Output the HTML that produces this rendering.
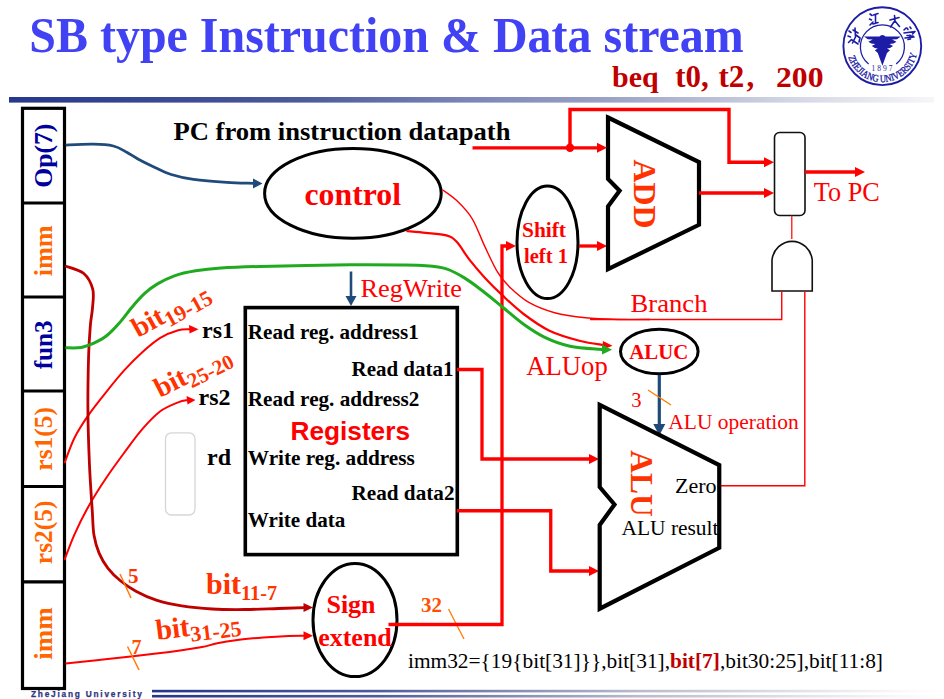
<!DOCTYPE html>
<html><head><meta charset="utf-8">
<style>
html,body{margin:0;padding:0;background:#fff;}
body{width:944px;height:699px;overflow:hidden;position:relative;}
svg{position:absolute;left:0;top:0;}
text{font-family:"Liberation Serif",serif;}
.s{font-family:"Liberation Sans",sans-serif;}
</style></head><body>
<svg width="944" height="699" viewBox="0 0 944 699">
<defs>
<linearGradient id="nav" x1="0" x2="1" y1="0" y2="0">
<stop offset="0" stop-color="#27378a"/>
<stop offset="0.315" stop-color="#4b5a9b"/>
<stop offset="0.5" stop-color="#7c86b8"/>
<stop offset="0.64" stop-color="#9aa0c4"/>
<stop offset="0.855" stop-color="#d5d8e5"/>
<stop offset="1" stop-color="#f6f6f9"/>
</linearGradient>
<linearGradient id="foot" x1="0" x2="1" y1="0" y2="0">
<stop offset="0" stop-color="#25358a"/>
<stop offset="0.288" stop-color="#4f5d9c"/>
<stop offset="0.439" stop-color="#8088b0"/>
<stop offset="0.616" stop-color="#b8bccb"/>
<stop offset="0.818" stop-color="#e0e2e8"/>
<stop offset="0.944" stop-color="#f8f8fa"/>
<stop offset="1" stop-color="#ffffff"/>
</linearGradient>
<path id="zjuarc" d="M848.4,57 A35.4,35.4 0 0 0 916.9,54"/>
</defs>

<!-- Title -->
<text x="29.3" y="51.5" font-weight="bold" font-size="50" fill="#4242f5" textLength="714.5" lengthAdjust="spacingAndGlyphs">SB type Instruction &amp; Data stream</text>
<g font-weight="bold" font-size="30" fill="#c00000">
<text x="612" y="86.5">beq</text>
<text x="675.3" y="87" font-size="31">t0,</text>
<text x="718.5" y="87" font-size="31">t2</text>
<text x="746.5" y="87" font-size="31">,</text>
<text x="776" y="86.5" textLength="47.5" lengthAdjust="spacingAndGlyphs">200</text>
</g>

<!-- nav bar -->
<rect x="9" y="97" width="925" height="5.6" fill="url(#nav)"/>

<!-- logo -->
<g fill="none" stroke="#1c1ca6">
<circle cx="882.3" cy="46.2" r="38.9" stroke-width="1.9"/>
<path d="M868.6,64 A22,22 0 1 1 896.2,64" stroke-width="1.3"/>
</g>
<path d="M864.0,36.6 L879.5,36.6 L880.7,35.4 L882.4,34.9 L884.2,35.4 L885.3,36.6 L900.8,36.6 L897.0,39.2 L892.0,39.6 L896.5,41.8 L893.5,43.6 L889.5,44.0 L893.0,46.0 L890.0,48.0 L887.0,48.4 L890.0,50.2 L887.0,53.0 L882.4,65.8 L877.8,53.0 L874.8,50.2 L877.8,48.4 L874.8,48.0 L871.8,46.0 L875.3,44.0 L871.3,43.6 L868.3,41.8 L872.8,39.6 L867.8,39.2 L864.0,36.6 z" fill="#1c1ca6"/>
<g fill="none" stroke="#1c1ca6" stroke-width="1.6" stroke-linecap="round" stroke-linejoin="round">
<path d="M849,31 l2,1.5 M848,36 l2.5,1 M848.5,42.5 l3,-3 M853,30 l5,3 M855,28 l0.5,9 l-3,6 M856,35 l4,3 l-1,4 M852,40 l6,4"/>
<path d="M870,14 l2,1.5 M869.5,19 l2,1 M870,25 l3,-3 M873.5,15 l4.5,-1.5 M875.5,14.5 l0,9 M873,24 l5,-1.5"/>
<path d="M890,20 l9,-2.5 M894.5,15.5 l0.5,5 l-4.5,6.5 M895,21 l4.5,5.5"/>
<path d="M904,30 l2,-2 M907,28 l1,1.5 M910,27 l1,1.5 M904,33 l11,-1.5 l-2.5,2.5 M907,35.5 l6,0.5 M910,35 l0.5,4 l-2.5,0.5 M905,38 l9,-1"/>
</g>
<text font-family="Liberation Sans" font-size="10" fill="#1c1ca6" stroke="#1c1ca6" stroke-width="0.35"><textPath href="#zjuarc" textLength="93" lengthAdjust="spacingAndGlyphs">ZHEJIANG UNIVERSITY</textPath></text>
<text x="883" y="70.5" font-size="7.5" fill="#1c1ca6" text-anchor="middle" letter-spacing="2">1897</text>

<!-- left instruction box -->
<rect x="22.5" y="108.3" width="42" height="580.2" fill="none" stroke="#000" stroke-width="3.2"/>
<g stroke="#000" stroke-width="3.2">
<line x1="22" y1="203" x2="65" y2="203"/>
<line x1="22" y1="297" x2="65" y2="297"/>
<line x1="22" y1="391" x2="65" y2="391"/>
<line x1="22" y1="486.5" x2="65" y2="486.5"/>
<line x1="22" y1="581.8" x2="65" y2="581.8"/>
</g>
<g font-size="26" font-weight="bold" text-anchor="middle">
<text transform="translate(51.5,155.7) rotate(-90)" fill="#00009c" textLength="64" lengthAdjust="spacingAndGlyphs">Op(7)</text>
<text transform="translate(51.7,250.8) rotate(-90)" fill="#ff6600" textLength="51" lengthAdjust="spacingAndGlyphs">imm</text>
<text transform="translate(51.7,344.8) rotate(-90)" fill="#00009c" textLength="49" lengthAdjust="spacingAndGlyphs">fun3</text>
<text transform="translate(51.5,438.9) rotate(-90)" fill="#ff6600" textLength="63.5" lengthAdjust="spacingAndGlyphs">rs1(5)</text>
<text transform="translate(51.5,532.4) rotate(-90)" fill="#ff6600" textLength="63.5" lengthAdjust="spacingAndGlyphs">rs2(5)</text>
<text transform="translate(51.7,633.5) rotate(-90)" fill="#ff6600" textLength="52.5" lengthAdjust="spacingAndGlyphs">imm</text>
</g>

<!-- PC from instruction -->
<text x="173.5" y="139.5" font-weight="bold" font-size="25" fill="#000" textLength="337" lengthAdjust="spacingAndGlyphs">PC from instruction datapath</text>

<!-- control -->
<ellipse cx="352.9" cy="193.4" rx="88.3" ry="44.9" fill="none" stroke="#000" stroke-width="3"/>
<text x="304.5" y="205" font-weight="bold" font-size="31.5" fill="#ff0000" textLength="96.5" lengthAdjust="spacingAndGlyphs">control</text>
<path d="M65.6,145.1 C70.2,144.9 85.4,144.0 93.4,144.2 C101.4,144.3 107.9,144.7 113.4,146.0 C119.0,147.3 122.6,150.0 126.7,152.2 C130.8,154.3 133.5,156.5 137.9,158.9 C142.3,161.3 147.9,164.1 153.4,166.7 C158.9,169.3 164.5,172.4 171.2,174.5 C177.9,176.6 184.2,178.1 193.5,179.4 C202.8,180.7 216.8,181.7 226.9,182.3 C237.0,183.0 249.5,183.1 254.0,183.3" fill="none" stroke="#1f4a7a" stroke-width="2.8"/>
<path d="M253,178.4 L262.5,183.5 L253,188.4 z" fill="#1f4a7a"/>

<!-- RegWrite -->
<line x1="351" y1="271.5" x2="351" y2="298" stroke="#1f4a7a" stroke-width="2.6"/>
<path d="M345.5,296 L351,306 L356.5,296 z" fill="#1f4a7a"/>
<text x="360.5" y="297" font-size="26" fill="#ff0000" textLength="101.5" lengthAdjust="spacingAndGlyphs">RegWrite</text>

<!-- Registers -->
<rect x="245.3" y="307.6" width="212" height="247" fill="none" stroke="#000" stroke-width="3.6"/>
<g font-weight="bold" font-size="21.5" fill="#000">
<text x="247.8" y="339" textLength="171" lengthAdjust="spacingAndGlyphs">Read reg. address1</text>
<text x="351.5" y="376.4" textLength="102" lengthAdjust="spacingAndGlyphs">Read data1</text>
<text x="247.8" y="406" textLength="171.5" lengthAdjust="spacingAndGlyphs">Read reg. address2</text>
<text x="247.8" y="465.1" textLength="167" lengthAdjust="spacingAndGlyphs">Write reg. address</text>
<text x="351.5" y="500.1" textLength="103" lengthAdjust="spacingAndGlyphs">Read data2</text>
<text x="247.8" y="527.4" textLength="97.5" lengthAdjust="spacingAndGlyphs">Write data</text>
</g>
<text x="290.5" y="440.2" class="s" font-weight="bold" font-size="25" fill="#ff0000" textLength="119.5" lengthAdjust="spacingAndGlyphs">Registers</text>

<g font-weight="bold" font-size="24" fill="#000">
<text x="202" y="337.5">rs1</text>
<text x="198.5" y="404.8">rs2</text>
<text x="207" y="465">rd</text>
</g>
<rect x="165.5" y="432.8" width="29.5" height="82.2" rx="6" fill="none" stroke="#d6d6d6" stroke-width="1.3"/>

<!-- rs1 / rs2 curves -->
<path d="M64.5,463.2 C66.1,459.0 70.3,446.2 74.3,438.2 C78.3,430.1 83.2,422.7 88.6,414.9 C94.0,407.1 100.5,399.1 106.5,391.6 C112.5,384.1 118.4,376.7 124.4,370.1 C130.4,363.5 136.3,357.6 142.3,352.2 C148.3,346.8 154.3,341.6 160.3,337.9 C166.3,334.2 173.2,331.6 178.2,330.2 C183.1,328.8 188.0,329.4 190.0,329.2" fill="none" stroke="#ff0000" stroke-width="2"/>
<path d="M189,325 L198.5,329.3 L189.5,333.5 z" fill="#ff0000"/>
<path d="M64.5,559.9 C66.1,555.7 70.3,543.8 74.3,534.8 C78.3,525.8 83.2,515.8 88.6,506.2 C94.0,496.6 100.5,486.4 106.5,477.5 C112.5,468.6 118.4,460.6 124.4,452.5 C130.4,444.4 136.3,436.1 142.3,429.2 C148.3,422.3 154.3,415.8 160.3,411.3 C166.3,406.8 173.6,404.2 178.2,402.3 C182.8,400.4 186.4,400.4 188.0,400.0" fill="none" stroke="#ff0000" stroke-width="2"/>
<path d="M186.5,396 L195.5,400 L187.5,404.5 z" fill="#ff0000"/>
<text transform="translate(138,338) rotate(-29)" font-size="28" fill="#ff3300" font-weight="bold">bit<tspan font-size="22" dy="6">19-15</tspan></text>
<text transform="translate(160,398) rotate(-27)" font-size="28" fill="#ff3300" font-weight="bold">bit<tspan font-size="21" dy="6">25-20</tspan></text>

<!-- dark red imm curve -->
<path d="M65.3,266.0 C68.4,267.2 79.2,269.6 83.8,273.5 C88.4,277.4 91.3,283.7 92.8,289.4 C94.2,295.1 92.9,302.0 92.5,307.9 C92.1,313.8 91.1,317.0 90.4,325.0 C89.8,333.0 89.0,341.7 88.6,355.8 C88.2,369.9 87.8,391.6 87.9,409.5 C88.0,427.4 88.7,446.5 89.4,463.2 C90.1,479.9 91.4,497.8 92.2,509.8 C93.0,521.8 92.8,528.1 94.0,535.3 C95.2,542.5 96.8,547.6 99.1,553.1 C101.4,558.6 104.4,563.6 108.0,568.3 C111.6,572.9 116.0,577.2 120.7,581.0 C125.4,584.8 130.0,588.0 135.9,591.2 C141.8,594.4 148.7,597.7 156.3,600.1 C163.9,602.5 172.4,604.4 181.7,605.9 C191.0,607.4 201.6,608.4 212.2,609.0 C222.8,609.6 234.3,609.6 245.3,609.5 C256.3,609.4 268.4,608.8 278.3,608.5 C288.2,608.2 300.6,607.8 305.0,607.7" fill="none" stroke="#be0000" stroke-width="2.8"/>
<path d="M303.5,603 L313,607.6 L303.5,612 z" fill="#be0000"/>
<text x="128" y="583" font-size="21" fill="#ff3300" font-weight="bold">5</text>
<line x1="120" y1="574" x2="131" y2="598" stroke="#ff7a00" stroke-width="1.5"/>
<text x="206" y="594" font-size="30" fill="#ff3300" font-weight="bold">bit<tspan font-size="20" dy="5.5" textLength="36" lengthAdjust="spacingAndGlyphs">11-7</tspan></text>

<!-- bottom imm line -->
<path d="M65.5,663.5 C67.9,663.2 73.3,662.6 80.0,661.9 C86.7,661.2 96.9,660.2 105.4,659.3 C113.9,658.4 122.4,657.5 130.9,656.5 C139.4,655.5 147.8,654.5 156.3,653.5 C164.8,652.5 174.1,651.3 181.7,650.2 C189.3,649.1 196.1,648.2 202.0,647.1 C207.9,646.0 211.4,644.5 217.3,643.3 C223.2,642.1 230.0,641.0 237.6,640.0 C245.2,639.0 254.6,638.2 263.1,637.5 C271.6,636.8 281.5,636.2 288.5,635.9 C295.5,635.6 302.2,635.7 305.0,635.7" fill="none" stroke="#ff0000" stroke-width="2"/>
<path d="M303.5,631.2 L313,635.7 L303.5,640.2 z" fill="#ff0000"/>
<text x="131.5" y="654" font-size="20" fill="#ff5000" font-weight="bold">7</text>
<line x1="127.5" y1="646.5" x2="139" y2="670" stroke="#ff7a00" stroke-width="1.5"/>
<text transform="translate(157,640) rotate(-7)" font-size="29" fill="#ff3300" font-weight="bold">bit<tspan font-size="22" dy="6">31-25</tspan></text>

<!-- Sign extend -->
<ellipse cx="355" cy="620" rx="42" ry="56.6" fill="none" stroke="#000" stroke-width="3"/>
<text x="351" y="613" font-size="26" fill="#ff0000" text-anchor="middle" font-weight="bold">Sign</text>
<text x="355" y="645.5" font-size="26" fill="#ff0000" text-anchor="middle" font-weight="bold">extend</text>
<text x="421" y="611.5" font-size="21" fill="#ff5000" font-weight="bold">32</text>
<line x1="448.5" y1="609" x2="464" y2="639" stroke="#ff7a00" stroke-width="1.3"/>
<text x="408" y="668" font-size="21" fill="#000" textLength="475" lengthAdjust="spacingAndGlyphs">imm32={19{bit[31]}},bit[31],<tspan font-weight="bold" fill="#c00000">bit[7]</tspan>,bit30:25],bit[11:8]</text>

<!-- sign extend output to shift left -->
<path d="M388.5,624.5 L502,624.5 L502,246 L508,246" fill="none" stroke="#ff0000" stroke-width="3.3"/>
<path d="M506,241 L516,246 L506,251 z" fill="#ff0000"/>

<!-- Shift left -->
<ellipse cx="547.5" cy="242.3" rx="30.5" ry="56.3" fill="none" stroke="#000" stroke-width="3"/>
<text x="522" y="236.5" font-size="22" fill="#ff0000" font-weight="bold" textLength="44" lengthAdjust="spacingAndGlyphs">Shift</text>
<text x="524" y="262.5" font-size="22" fill="#ff0000" font-weight="bold" textLength="44" lengthAdjust="spacingAndGlyphs">left 1</text>
<line x1="579" y1="246" x2="598" y2="246" stroke="#ff0000" stroke-width="3.3"/>
<path d="M597,241 L607,246 L597,251 z" fill="#ff0000"/>

<!-- ADD -->
<path d="M608,117.5 L699,162.1 L699,224.8 L608,269.2 L608,206.5 L619.6,190.7 L608,179 z" fill="none" stroke="#000" stroke-width="4.2" stroke-linejoin="miter"/>
<text transform="translate(633.5,194) rotate(90)" font-size="31.5" fill="#ff3300" text-anchor="middle" font-weight="bold" textLength="69" lengthAdjust="spacingAndGlyphs">ADD</text>

<!-- PC line -->
<path d="M472.5,147.8 L598,147.8" fill="none" stroke="#ff0000" stroke-width="3.3"/>
<path d="M597,142.8 L607,147.8 L597,152.8 z" fill="#ff0000"/>
<circle cx="570" cy="147.8" r="4.2" fill="#ff0000"/>
<path d="M570,147.8 L570,109.5 L729,109.5 L729,162.2 L765,162.2" fill="none" stroke="#ff0000" stroke-width="3.4"/>
<path d="M764,157.2 L774,162.2 L764,167.2 z" fill="#ff0000"/>
<line x1="699" y1="193" x2="765" y2="193" stroke="#ff0000" stroke-width="3.3"/>
<path d="M764,188 L774,193 L764,198 z" fill="#ff0000"/>

<!-- Mux -->
<rect x="774.5" y="132.5" width="30.5" height="83" rx="5" fill="none" stroke="#111" stroke-width="1.6"/>
<line x1="805" y1="172" x2="856" y2="172" stroke="#ff0000" stroke-width="3.3"/>
<path d="M855,167 L865,172 L855,177 z" fill="#ff0000"/>
<text x="813.8" y="200.8" font-size="26.5" fill="#ff0000" textLength="66" lengthAdjust="spacingAndGlyphs">To PC</text>
<line x1="791.75" y1="215.75" x2="791.75" y2="239" stroke="#ff3030" stroke-width="1.5"/>

<!-- AND gate -->
<path d="M772,291 L772,260 A20.25,21 0 0 1 812.25,260 L812.25,291 z" fill="none" stroke="#111" stroke-width="1.6"/>
<path d="M781.75,291 L781.75,319.5 L590,319.5" fill="none" stroke="#ff0000" stroke-width="1.4"/>
<path d="M804.8,291 L804.8,485.75 L719,485.75" fill="none" stroke="#ff0000" stroke-width="1.4"/>
<text x="630.5" y="311.5" font-size="24.5" fill="#ff0000" textLength="77" lengthAdjust="spacingAndGlyphs">Branch</text>

<!-- thin red branch curve from control -->
<path d="M442.5,189.8 C444.9,191.6 451.8,195.8 456.7,200.6 C461.6,205.4 467.4,210.9 472.1,218.6 C476.8,226.3 480.7,237.9 485.0,246.9 C489.3,255.9 493.6,265.8 497.9,272.7 C502.2,279.6 505.7,283.2 510.8,288.2 C516.0,293.1 521.5,298.3 528.8,302.4 C536.1,306.5 545.1,310.1 554.6,312.7 C564.1,315.3 574.6,316.7 585.5,317.8 C596.4,318.9 609.2,319.2 620.0,319.5 C630.8,319.8 645.0,319.5 650.0,319.5" fill="none" stroke="#ff0000" stroke-width="1.4"/>
<!-- ALUop curve -->
<path d="M406.4,231.0 C409.6,231.3 419.1,232.1 425.8,232.8 C432.5,233.5 441.2,233.9 446.4,235.4 C451.5,236.9 452.8,237.7 456.7,241.8 C460.6,245.9 464.9,253.9 469.6,259.9 C474.3,265.9 479.4,271.9 485.0,277.9 C490.6,283.9 496.6,289.9 503.0,295.9 C509.4,301.9 515.9,308.2 523.6,314.0 C531.3,319.8 540.0,326.2 549.4,330.7 C558.8,335.2 571.2,338.6 580.3,341.0 C589.4,343.4 600.0,344.3 604.0,345.0" fill="none" stroke="#ff0000" stroke-width="2.2"/>
<path d="M603,341 L612.5,345.8 L602,350 z" fill="#ff0000"/>
<!-- green curve -->
<path d="M65.5,347.8 C68.1,347.8 76.5,348.3 81.2,347.5 C85.9,346.7 89.7,345.1 93.9,343.2 C98.1,341.2 102.4,339.1 106.6,335.8 C110.8,332.5 115.1,327.9 119.3,323.1 C123.5,318.3 127.8,312.1 132.0,307.2 C136.2,302.2 140.4,297.3 144.7,293.4 C148.9,289.5 152.6,286.8 157.5,283.9 C162.4,281.0 168.1,278.0 174.4,275.8 C180.8,273.6 187.8,272.1 195.6,270.8 C203.4,269.5 210.3,268.7 221.0,268.0 C231.7,267.3 238.5,267.0 260.0,266.5 C281.5,266.0 326.7,265.1 350.0,264.8 C373.3,264.6 387.4,264.8 400.0,265.0 C412.6,265.2 418.1,265.2 425.8,265.8 C433.5,266.4 440.0,266.9 446.4,268.9 C452.8,270.9 458.4,274.2 464.4,277.9 C470.4,281.5 476.0,285.9 482.4,290.8 C488.8,295.7 496.1,301.9 503.0,307.5 C509.9,313.1 516.7,319.4 523.6,324.3 C530.5,329.2 536.6,333.5 544.3,337.1 C552.0,340.8 560.2,344.1 570.0,346.2 C579.8,348.3 597.5,348.9 603.0,349.5" fill="none" stroke="#1faa1f" stroke-width="3"/>
<path d="M602,344.5 L612,349.7 L602,354.5 z" fill="#1faa1f"/>
<text x="526.3" y="374.9" font-size="27" fill="#ff0000" textLength="81.5" lengthAdjust="spacingAndGlyphs">ALUop</text>

<!-- ALUC -->
<ellipse cx="659.3" cy="351.5" rx="38.8" ry="22.3" fill="none" stroke="#000" stroke-width="3"/>
<text x="629.3" y="358.7" font-size="21.5" fill="#ff0000" font-weight="bold" textLength="59" lengthAdjust="spacingAndGlyphs">ALUC</text>
<line x1="659.3" y1="375" x2="659.3" y2="425" stroke="#1f4a7a" stroke-width="3.2"/>
<path d="M653.3,424 L659.3,435.5 L665.3,424 z" fill="#1f4a7a"/>
<text x="631.3" y="407.3" font-size="20.5" fill="#ff0000">3</text>
<line x1="648" y1="390" x2="671" y2="405" stroke="#ff7a00" stroke-width="1.3"/>
<text x="668.3" y="428.9" font-size="22" fill="#ff0000" textLength="130.5" lengthAdjust="spacingAndGlyphs">ALU operation</text>

<!-- Read data lines -->
<path d="M457,369.5 L482,369.5 L482,459 L590,459" fill="none" stroke="#ff0000" stroke-width="3.3"/>
<path d="M589,454 L599,459 L589,464 z" fill="#ff0000"/>
<path d="M457,510.75 L550.75,510.75 L550.75,571 L590,571" fill="none" stroke="#ff0000" stroke-width="3.3"/>
<path d="M589,566 L599,571 L589,576 z" fill="#ff0000"/>

<!-- ALU -->
<path d="M599.7,404.8 L719.25,465 L719.25,547.75 L599.7,608.7 L599.7,525 L614.5,504.5 L599.7,487 z" fill="none" stroke="#000" stroke-width="4.2"/>
<text transform="translate(631.3,483.5) rotate(90)" font-size="31" fill="#ff3300" text-anchor="middle" font-weight="bold" textLength="66.5" lengthAdjust="spacingAndGlyphs">ALU</text>
<text x="675" y="492.5" font-size="21" fill="#000" textLength="41.5" lengthAdjust="spacingAndGlyphs">Zero</text>
<text x="621.5" y="535.4" font-size="21" fill="#000" textLength="97" lengthAdjust="spacingAndGlyphs">ALU result</text>

<!-- footer -->
<text x="31" y="697.2" class="s" font-size="8.3" font-weight="bold" fill="#2b3580" stroke="#2b3580" stroke-width="0.25" letter-spacing="1.2" textLength="112" lengthAdjust="spacing">ZheJiang University</text>
<rect x="152" y="689.8" width="792" height="2.6" fill="url(#foot)"/>
<rect x="152" y="694.9" width="792" height="2.6" fill="url(#foot)"/>
</svg>
</body></html>
